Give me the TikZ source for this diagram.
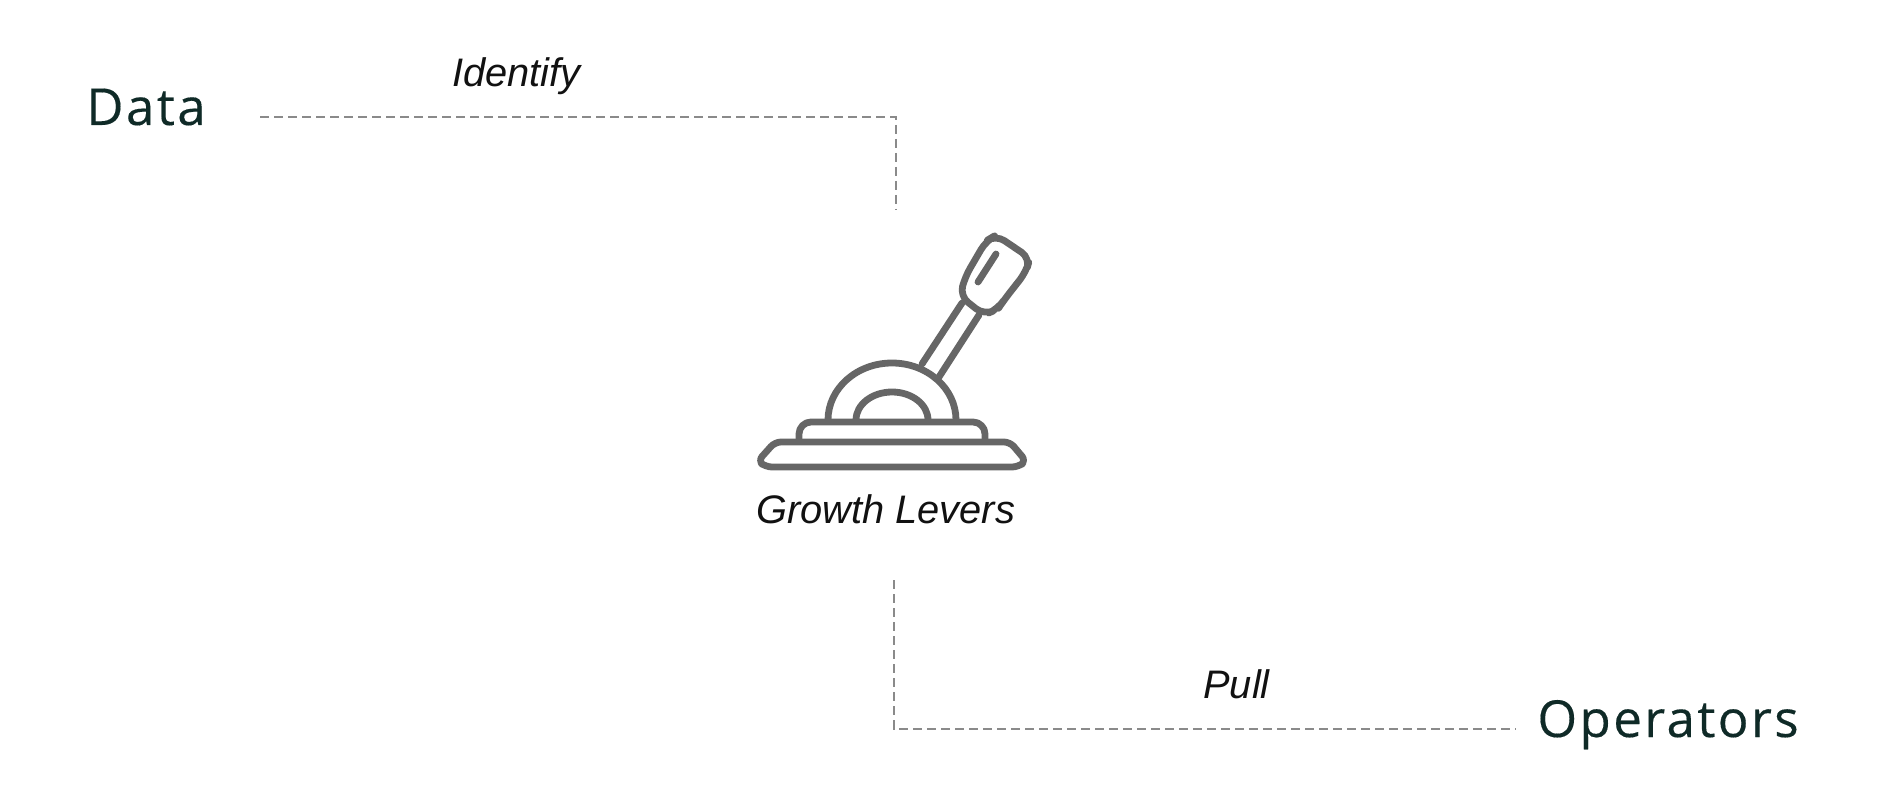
\documentclass[tikz,border=0pt]{standalone}
\usepackage{fontspec}
\setmainfont{Liberation Sans}
\newfontfamily\headfont[LetterSpace=4.8,FakeBold=0.25]{Open Sans}
\definecolor{iconc}{HTML}{666666}
\definecolor{dashc}{HTML}{8A8A8A}
\definecolor{headc}{HTML}{0F2A27}
\definecolor{labelc}{HTML}{111111}
\tikzset{
  headtext/.style={inner sep=0pt,text=headc,font=\headfont\fontsize{25.5}{30}\selectfont},
  labeltext/.style={inner sep=0pt,text=labelc,font=\itshape\fontsize{19.9}{24}\selectfont},
  dashline/.style={draw=dashc,line width=1pt,dash pattern=on 4.6pt off 2.4pt},
  iconline/.style={draw=iconc,line width=3.4pt,line join=round,line cap=round}
}
\begin{document}
\begin{tikzpicture}[x=0.5pt,y=-0.5pt]
\useasboundingbox (0,0) rectangle (1888,812);
\fill[white] (0,0) rectangle (1888,812);
\node[headtext,anchor=base west] (data) at (86,125) {Data};
\node[headtext,anchor=base west] (operators) at (1537,737) {Operators};
\node[labeltext,anchor=base west] (identify) at (452,87) {Identify};
\node[labeltext,anchor=base west] (pull) at (1203,698) {Pull};
\node[labeltext,anchor=base west] (growth) at (756,523) {Growth Levers};
\coordinate (dataend) at (260,117);
\coordinate (levertop) at (896,210);
\coordinate (leverbottom) at (894,580);
\coordinate (opsend) at (1516,729);
\draw[dashline] (dataend) -| (levertop);
\draw[dashline] (leverbottom) |- (opsend);
% icon
\draw[iconline,rounded corners=3pt] (775,442) -- (1010,442) -- (1026,461) -- (1018,467) -- (766,467) -- (758,461) -- cycle;
\draw[iconline,rounded corners=6pt] (799,441) -- (799,422) -- (985,422) -- (985,441);
\draw[iconline] (828,420) arc[start angle=180,end angle=360,x radius=64,y radius=57];
\draw[iconline] (856,420) arc[start angle=180,end angle=360,x radius=36,y radius=28];
\draw[iconline] (922,364) -- (962,303);
\draw[iconline] (939,377) -- (979,315);
\draw[iconline,rounded corners=5pt] (960,296) -- (965,277) -- (986,241) -- (996,235) -- (1030,258) -- (1026,272) -- (1004,300) -- (998,309) -- (984,315) -- cycle;
\draw[iconline] (996,254) -- (978,282);
\end{tikzpicture}
\end{document}
